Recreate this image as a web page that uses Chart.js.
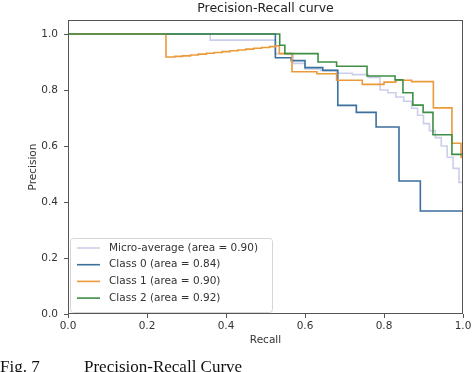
<!DOCTYPE html>
<html><head><meta charset="utf-8">
<script src="https://cdn.jsdelivr.net/npm/chart.js@4/dist/chart.umd.min.js"></script>
<style>html,body{margin:0;padding:0;background:#fff;}#wrap{width:474px;height:372px;position:relative;}</style>
</head><body><div id="wrap"><canvas id="c" width="474" height="372"></canvas></div>
<script>
const titleText = 'Precision-Recall curve';
const xLabel = 'Recall';
const yLabel = 'Precision';
const captionLabel = 'Fig. 7';
const captionText = 'Precision-Recall Curve';
const xTicks = [0, 0.2, 0.4, 0.6, 0.8, 1.0];
const yTicks = [0, 0.2, 0.4, 0.6, 0.8, 1.0];
const xTickLabels = ['0.0', '0.2', '0.4', '0.6', '0.8', '1.0'];
const yTickLabels = ['0.0', '0.2', '0.4', '0.6', '0.8', '1.0'];
const seriesNames = ['Micro-average (area = 0.90)', 'Class 0 (area = 0.84)', 'Class 1 (area = 0.90)', 'Class 2 (area = 0.92)'];

const microRecall    = [0, 0.36, 0.525, 0.57, 0.60, 0.64, 0.68, 0.72, 0.76, 0.79, 0.81, 0.83, 0.85, 0.87, 0.885, 0.90, 0.915, 0.93, 0.945, 0.96, 0.975, 0.99, 1.0];
const microPrecision = [1.0, 0.978, 0.93, 0.895, 0.875, 0.87, 0.86, 0.855, 0.845, 0.80, 0.79, 0.775, 0.76, 0.735, 0.71, 0.68, 0.655, 0.63, 0.60, 0.56, 0.52, 0.47, 0.42];

const class0Recall    = [0, 0.525, 0.565, 0.60, 0.645, 0.683, 0.73, 0.78, 0.838, 0.892, 1.0];
const class0Precision = [1.0, 0.915, 0.905, 0.88, 0.87, 0.745, 0.72, 0.668, 0.475, 0.368, 0.186];

const class1Recall    = [0, 0.248, 0.27, 0.29, 0.31, 0.33, 0.35, 0.37, 0.39, 0.41, 0.43, 0.45, 0.47, 0.49, 0.51, 0.525, 0.535, 0.567, 0.63, 0.68, 0.745, 0.80, 0.83, 0.87, 0.925, 0.972, 0.995, 1.0];
const class1Precision = [1.0, 0.918, 0.92, 0.922, 0.925, 0.928, 0.931, 0.934, 0.937, 0.94, 0.943, 0.946, 0.949, 0.952, 0.955, 0.958, 0.93, 0.865, 0.858, 0.835, 0.82, 0.828, 0.835, 0.83, 0.736, 0.61, 0.56, 0.52];

const class2Recall    = [0, 0.536, 0.549, 0.633, 0.68, 0.757, 0.828, 0.848, 0.873, 0.899, 0.924, 0.972, 1.0];
const class2Precision = [1.0, 0.96, 0.93, 0.90, 0.885, 0.85, 0.836, 0.79, 0.746, 0.72, 0.64, 0.57, 0.50];

const colors = ['rgba(185,190,228,0.75)', '#3b6f9c', '#eb9a3a', '#3e8f45'];

function pts(rx, py) { return rx.map((r, i) => ({x: r, y: py[i]})); }
const seriesData = [pts(microRecall, microPrecision), pts(class0Recall, class0Precision), pts(class1Recall, class1Precision), pts(class2Recall, class2Precision)];

const FONT = 'DejaVu Sans';
const TXT = '#333';

const decor = {
  id: 'decor',
  afterDraw(chart) {
    const ctx = chart.ctx, a = chart.chartArea;
    ctx.save();
    ctx.strokeStyle = '#555'; ctx.lineWidth = 1;
    ctx.strokeRect(Math.round(a.left) + 0.5, Math.round(a.top) + 0.5, Math.round(a.right - a.left) - 1, Math.round(a.bottom - a.top) - 1);
    ctx.fillStyle = '#222'; ctx.font = '12.5px "' + FONT + '"';
    ctx.textAlign = 'center'; ctx.textBaseline = 'middle';
    ctx.fillText(titleText, (a.left + a.right) / 2, 9);
    const lx = 70, ly = 238, lw = 202, lh = 74;
    ctx.beginPath();
    ctx.roundRect(lx + 0.5, ly + 0.5, lw, lh, 3);
    ctx.fillStyle = 'rgba(255,255,255,0.8)'; ctx.fill();
    ctx.strokeStyle = '#d6d6d6'; ctx.stroke();
    ctx.font = '10.5px "' + FONT + '"'; ctx.textAlign = 'left'; ctx.textBaseline = 'middle';
    chart.data.datasets.forEach((ds, i) => {
      const y = 248 + i * 16.7;
      ctx.strokeStyle = ds.borderColor; ctx.lineWidth = 1.6;
      ctx.beginPath(); ctx.moveTo(77, y); ctx.lineTo(100, y); ctx.stroke();
      ctx.fillStyle = TXT; ctx.fillText(ds.label, 109, y);
    });
    ctx.fillStyle = '#111'; ctx.font = '17px "Liberation Serif"'; ctx.textAlign = 'left'; ctx.textBaseline = 'alphabetic';
    ctx.fillText(captionLabel, 0, 372);
    ctx.fillText(captionText, 84, 372);
    ctx.restore();
  }
};

new Chart(document.getElementById('c'), {
  type: 'scatter',
  data: {
    datasets: seriesData.map((d, i) => ({
      label: seriesNames[i], data: d, showLine: true, stepped: 'before',
      borderColor: colors[i], backgroundColor: colors[i], borderWidth: 1.6,
      pointRadius: 0, fill: false, order: 4 - i
    }))
  },
  options: {
    responsive: false, animation: false, devicePixelRatio: 1,
    layout: {padding: {left: 0, right: 11, top: 20, bottom: 0}},
    plugins: {legend: {display: false}, title: {display: false}, tooltip: {enabled: false}},
    scales: {
      x: {
        type: 'linear', min: 0, max: 1,
        afterFit(s) { s.height = 58; },
        afterBuildTicks(s) { s.ticks = xTicks.map(v => ({value: v})); },
        ticks: {callback: (v, i) => xTickLabels[i], font: {family: FONT, size: 10.5}, color: TXT, padding: 2, maxRotation: 0},
        grid: {drawOnChartArea: false, tickLength: 4, tickColor: '#555'},
        border: {display: false},
        title: {display: true, text: xLabel, font: {family: FONT, size: 10.5}, color: TXT, padding: {top: 0, bottom: 25}}
      },
      y: {
        type: 'linear', min: 0, max: 1.05,
        afterFit(s) { s.width = 68; },
        afterBuildTicks(s) { s.ticks = yTicks.map(v => ({value: v})); },
        ticks: {callback: (v, i) => yTickLabels[i], font: {family: FONT, size: 10.5}, color: TXT, padding: 6},
        grid: {drawOnChartArea: false, tickLength: 4, tickColor: '#555'},
        border: {display: false},
        title: {display: true, text: yLabel, font: {family: FONT, size: 10.5}, color: TXT, padding: {top: 27, bottom: 0}}
      }
    }
  },
  plugins: [decor]
});
</script></body></html>
